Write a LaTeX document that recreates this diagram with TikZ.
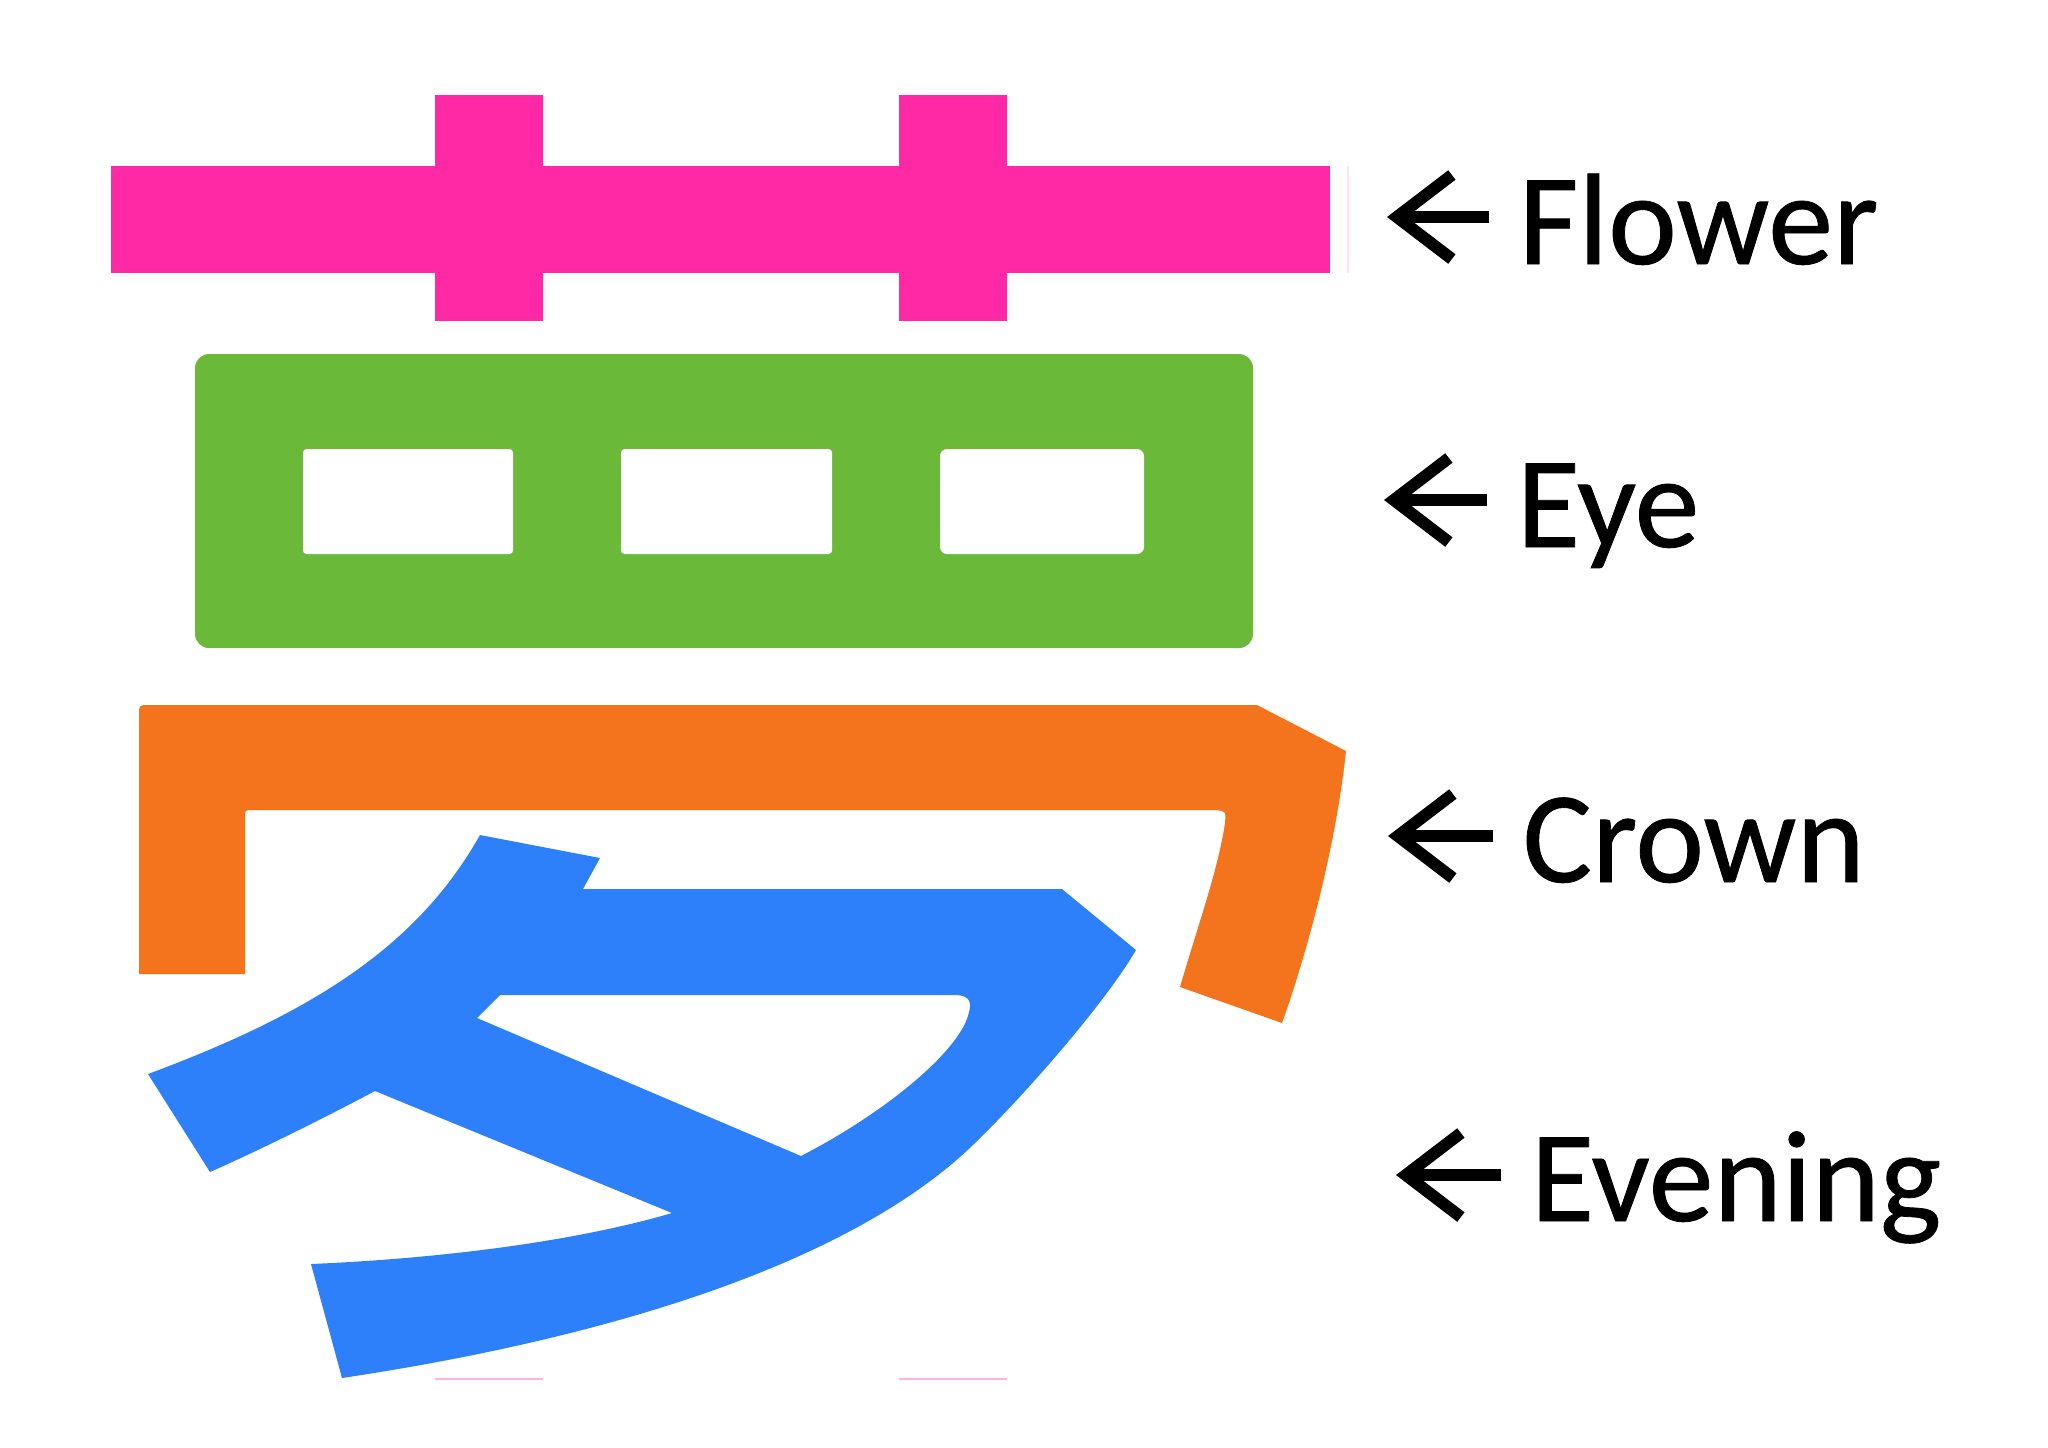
\documentclass[tikz,border=0pt]{standalone}
\usepackage{fontspec}
\setmainfont{Carlito}[FakeBold=0.6]
\usetikzlibrary{arrows.meta}

\definecolor{flowerpink}{RGB}{255,41,165}
\definecolor{eyegreen}{RGB}{106,185,56}
\definecolor{crownorange}{RGB}{244,115,29}
\definecolor{eveningblue}{RGB}{45,127,250}

\tikzset{
  lbl/.style={anchor=base west, inner sep=0pt, font=\fontsize{37}{44}\selectfont},
  lblarrow/.style={line width=3.4pt, shorten <=0.29cm, -{Straight Barb[length=0.55cm, width=0.84cm]}}
}

\begin{document}
\begin{tikzpicture}[x=0.01cm, y=-0.01cm]
        \useasboundingbox (0,0) rectangle (2048,1447);

        % Flower part
        \fill[flowerpink] (111,166) rectangle (1330,273);
        \fill[flowerpink] (435,95) rectangle (543,321);
        \fill[flowerpink] (899,95) rectangle (1007,321);
        \draw[flowerpink!15, line width=0.6pt] (1348,166) -- (1348,273);
        \draw[flowerpink!35, line width=0.8pt] (435,1379) -- (543,1379);
        \draw[flowerpink!35, line width=0.8pt] (899,1379) -- (1007,1379);

        % Eye part
        \fill[eyegreen, rounded corners=4pt] (195,354) rectangle (1253,648);
        \fill[white, rounded corners=1pt] (303,449) rectangle (513,554);
        \fill[white, rounded corners=1pt] (621,449) rectangle (832,554);
        \fill[white, rounded corners=2pt] (940,449) rectangle (1144,554);

        % Crown part
        \fill[crownorange] (139,974) -- (139,715) .. controls (139,705) .. (149,705)
            -- (1257,705) -- (1346,751)
            .. controls (1336,845) and (1308,950) .. (1282,1023)
            -- (1180,987)
            .. controls (1198,925) and (1218,870) .. (1225,823)
            .. controls (1226,811) .. (1214,810) -- (252,810)
            .. controls (245,810) .. (245,818) -- (245,974) -- cycle;

        % Evening part
        \fill[eveningblue, even odd rule]
            (480,835) -- (600,858) -- (583,889) -- (1062,889) -- (1136,950)
            .. controls (1101,1010) and (1005,1117) .. (960,1157)
            .. controls (820,1280) and (562,1345) .. (342,1378)
            -- (311,1264)
            .. controls (450,1258) and (580,1240) .. (672,1213)
            -- (375,1091)
            .. controls (330,1115) and (260,1150) .. (210,1172)
            -- (148,1074)
            .. controls (315,1012) and (418,945) .. (480,835) -- cycle
            (500,995) -- (955,995) .. controls (972,995) and (971,1005) .. (969,1012)
            .. controls (962,1048) and (890,1110) .. (801,1156)
            -- (477,1018) -- cycle;

        % Labels
        \node[lbl] (flower) at (1518,264) {Flower};
        \node[lbl] (eye) at (1516,547) {Eye};
        \node[lbl] (crown) at (1522,882) {Crown};
        \node[lbl] (evening) at (1530,1221) {Evening};

        \coordinate (flowertip) at (1387,217);
        \coordinate (eyetip) at (1384,500);
        \coordinate (crowntip) at (1388,836);
        \coordinate (eveningtip) at (1396,1175);

        \draw[lblarrow] (flower.west |- flowertip) -- (flowertip);
        \draw[lblarrow] (eye.west |- eyetip) -- (eyetip);
        \draw[lblarrow] (crown.west |- crowntip) -- (crowntip);
        \draw[lblarrow] (evening.west |- eveningtip) -- (eveningtip);

    \end{tikzpicture}
\end{document}
